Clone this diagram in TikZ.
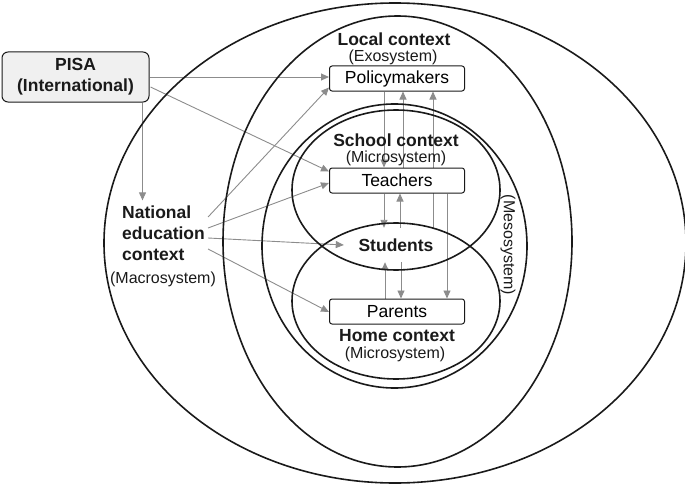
\documentclass[tikz,border=0pt]{standalone}
\usepackage{fontspec}
\setmainfont{Liberation Sans}
\usetikzlibrary{arrows.meta,calc,backgrounds}
\definecolor{arr}{HTML}{8C8C8C}
\definecolor{ink}{HTML}{1A1A1A}
\begin{document}
\begin{tikzpicture}[x=1pt,y=-1pt,
  box/.style={draw=ink, line width=1pt, fill=white, rounded corners=2.5pt, minimum width=135pt, minimum height=25pt, inner sep=0pt, font=\fontsize{17.5}{20}\selectfont},
  lbl/.style={font=\bfseries\fontsize{17.5}{21}\selectfont, inner sep=0pt, text=ink},
  sub/.style={font=\fontsize{16}{19}\selectfont, inner sep=0pt, text=ink},
  con/.style={draw=arr, line width=0.9pt, -{Triangle[length=8pt,width=7pt]}},
  ring/.style={draw=ink, line width=1.6pt}]
\useasboundingbox (0,0) rectangle (685,487);
% nested contexts
\draw[ring] (395,243) ellipse [x radius=291pt, y radius=240pt];
\draw[ring] (397.5,241.5) ellipse [x radius=174.5pt, y radius=225.5pt];
\draw[ring] (394.5,246) ellipse [x radius=132.5pt, y radius=142pt];
\draw[ring] (396,190) ellipse [x radius=104pt, y radius=80pt];
\draw[ring] (396,301) ellipse [x radius=104pt, y radius=78pt];
% nodes
\node[draw=ink, line width=1pt, fill=gray!12, rounded corners=6pt, minimum width=147pt, minimum height=50pt, align=center, lbl] (pisa) at (75.5,77) {PISA\\(International)};
\node[box] (pol) at (397,78.5) {Policymakers};
\node[box] (tea) at (397,180.5) {Teachers};
\node[box] (par) at (397,311.5) {Parents};
\node[lbl, minimum width=104pt, minimum height=34pt] (stu) at (396,245) {Students};
\node[lbl, align=left, anchor=west] (nat) at (122,233) {National\\education\\context};
\node[sub] (mac) at (163,279) {(Macrosystem)};
\node[lbl] (loc) at (394,39) {Local context};
\node[sub] (exo) at (393,57.5) {(Exosystem)};
\node[lbl] (sch) at (396,140) {School context};
\node[sub] (schm) at (396,158) {(Microsystem)};
\node[lbl] (hom) at (397,336) {Home context};
\node[sub] (homm) at (395,354) {(Microsystem)};
\node[sub, rotate=-90] (meso) at (508,245) {(Mesosystem)};
% connectors
\begin{scope}[on background layer]
\draw[con] (pisa.east) -- (pisa.east -| pol.west);
\draw[con] ($(pisa.east)+(1,10)$) -- ($(tea.west)+(0,-9)$);
\coordinate (p1) at ($(pisa.south east)+(-7,0)$);
\coordinate (n1) at ($(nat.north)+(0,-5)$);
\draw[con] (p1) -- (p1 |- n1);
\draw[con] ($(nat.east)+(3,-16)$) -- ($(pol.south west)+(0,-4)$);
\draw[con] ($(nat.east)+(3,-5)$) -- ($(tea.west)+(0,2.5)$);
\draw[con] ($(nat.east)+(3,5)$) -- (stu.west);
\draw[con] ($(nat.east)+(3,16)$) -- ($(par.west)+(0,0.5)$);
\draw[con] ($(pol.south)+(-13,0)$) -- ($(tea.north)+(-13,0)$);
\draw[con] ($(tea.north)+(6,0)$) -- ($(pol.south)+(6,0)$);
\draw[con] ($(stu.north)+(37,0)$) -- ($(pol.south)+(36,0)$);
\draw[con] ($(tea.south)+(-13,0)$) -- ($(stu.north)+(-12,0)$);
\draw[con] ($(stu.north)+(4,0)$) -- ($(tea.south)+(3,0)$);
\draw[con] ($(tea.south)+(50,0)$) -- ($(par.north)+(50,0)$);
\draw[con] ($(par.north)+(-12,0)$) -- ($(stu.south)+(-11,0)$);
\draw[con] ($(stu.south)+(5,0)$) -- ($(par.north)+(4,0)$);
\end{scope}
\end{tikzpicture}
\end{document}
